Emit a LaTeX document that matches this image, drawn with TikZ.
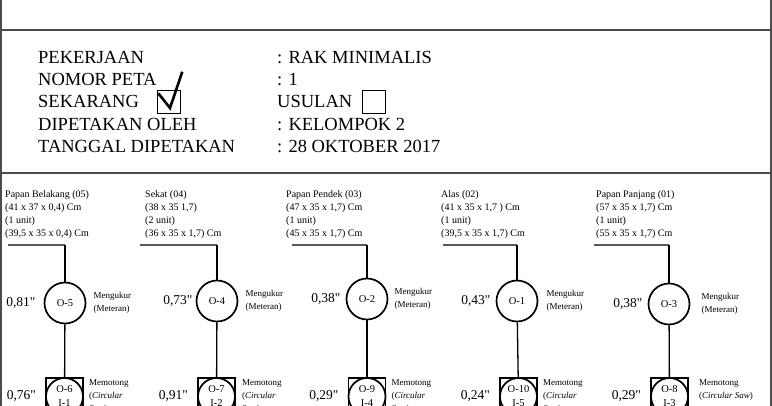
\documentclass[tikz,border=0pt]{standalone}
\usepackage{fontspec}
\setmainfont{Liberation Serif}
\usetikzlibrary{positioning}
\tikzset{
    frameline/.style={line width=2pt, black!70},
    headtext/.style={anchor=base west, inner sep=0pt, font=\fontsize{18.5}{22}\selectfont},
    tickbox/.style={draw, line width=1pt, minimum size=23pt, inner sep=0pt},
    tickmark/.style={line width=2.6pt},
    partlabel/.style={anchor=north west, inner sep=0pt, align=left, font=\fontsize{10}{13}\selectfont},
    barline/.style={line width=2.6pt, black!65},
    stemline/.style={line width=1.3pt},
    opcircle/.style={draw, circle, line width=1.7pt, minimum size=41pt, inner sep=0pt, font=\fontsize{10.5}{12}\selectfont},
    opbox/.style={draw, line width=1.7pt, minimum size=37pt, inner sep=0pt},
    opinner/.style={draw, circle, line width=1.7pt, minimum size=37pt, inner sep=0pt, align=center, font=\fontsize{10.5}{14}\selectfont},
    timetext/.style={inner sep=0pt, font=\fontsize{13.5}{16}\selectfont},
    notetext/.style={inner sep=0pt, align=left, font=\fontsize{9}{13}\selectfont},
}
\newcommand{\dq}{\textquotedbl}

\begin{document}
\begin{tikzpicture}[x=1pt,y=-1pt]
\useasboundingbox (0,0) rectangle (772,406);
\clip (0,0) rectangle (772,406);
\fill[white] (0,0) rectangle (772,406);

% frame
\draw[frameline] (1,0) -- (1,406);
\draw[frameline] (771,0) -- (771,406);
\draw[frameline] (0,30) -- (772,30);
\draw[frameline] (0,173) -- (772,173);

% header
\node[headtext] (pekerjaan) at (38,63.3) {PEKERJAAN};
\node[headtext] (nomor) at (38,85.5) {NOMOR PETA};
\node[headtext] (sekarang) at (38,107.9) {SEKARANG};
\node[headtext] (oleh) at (38,130.3) {DIPETAKAN OLEH};
\node[headtext] (tanggal) at (38,152.7) {TANGGAL DIPETAKAN};
\node[headtext] (pekerjaanval) at (277,63.3) {: RAK MINIMALIS};
\node[headtext] (nomorval) at (277,85.5) {: 1};
\node[headtext] (usulan) at (277,107.9) {USULAN};
\node[headtext] (olehval) at (277,130.3) {: KELOMPOK 2};
\node[headtext] (tanggalval) at (277,152.7) {: 28 OKTOBER 2017};
\node[tickbox] (boxnow) at (169,101.7) {};
\node[tickbox] (boxnew) at (374,101.7) {};
\draw[tickmark] (158.3,93.3) -- (170,108) -- (182.3,71.7);

% Papan Belakang
\node[partlabel] (part5) at (5,190) {Papan Belakang (05)\\(41 x 37 x 0,4) Cm\\(1 unit)\\(39,5 x 35 x 0,4) Cm};
\coordinate (bar5) at (8,245);
\node[opcircle] (o5) at (65,303) {O-5};
\node[opbox] (b6) at (64.5,396.5) {};
\node[opinner] (o6) at (b6) {O-6\\I-1};
\draw[barline] (bar5) -- (bar5 -| o5);
\draw[stemline] (bar5 -| o5) -- (o5);
\draw[stemline] (o5) -- (b6);
\node[timetext, left=8pt of o5] (t5) {0,81\dq};
\node[timetext, left=9pt of b6] (t6) {0,76\dq};
\node[notetext, right=7pt of o5] (n5) {Mengukur\\(Meteran)};
\node[notetext, anchor=north west] (n6) at ([xshift=5pt,yshift=-2pt]b6.north east) {Memotong\\(\textit{Circular}\\\textit{Saw})};

% Sekat
\node[partlabel] (part4) at (145,190) {Sekat (04)\\(38 x 35 1,7)\\(2 unit)\\(36 x 35 x 1,7) Cm};
\coordinate (bar4) at (140,245);
\node[opcircle] (o4) at (217,301) {O-4};
\node[opbox] (b7) at (216.5,396.5) {};
\node[opinner] (o7) at (b7) {O-7\\I-2};
\draw[barline] (bar4) -- (bar4 -| o4);
\draw[stemline] (bar4 -| o4) -- (o4);
\draw[stemline] (o4) -- (b7);
\node[timetext, left=3pt of o4] (t4) {0,73\dq};
\node[timetext, left=9pt of b7] (t7) {0,91\dq};
\node[notetext, right=7pt of o4] (n4) {Mengukur\\(Meteran)};
\node[notetext, anchor=north west] (n7) at ([xshift=6pt,yshift=-2pt]b7.north east) {Memotong\\(\textit{Circular}\\\textit{Saw})};

% Papan Pendek
\node[partlabel] (part3) at (286,190) {Papan Pendek (03)\\(47 x 35 x 1,7) Cm\\(1 unit)\\(45 x 35 x 1,7) Cm};
\coordinate (bar3) at (292,245);
\node[opcircle] (o2) at (367,299) {O-2};
\node[opbox] (b9) at (367,396.5) {};
\node[opinner] (o9) at (b9) {O-9\\I-4};
\draw[barline] (bar3) -- (bar3 -| o2);
\draw[stemline] (bar3 -| o2) -- (o2);
\draw[stemline] (o2) -- (b9);
\node[timetext, left=5pt of o2] (t2) {0,38\dq};
\node[timetext, left=9pt of b9] (t9) {0,29\dq};
\node[notetext, right=6pt of o2] (n2) {Mengukur\\(Meteran)};
\node[notetext, anchor=north west] (n9) at ([xshift=5pt,yshift=-2pt]b9.north east) {Memotong\\(\textit{Circular}\\\textit{Saw})};

% Alas
\node[partlabel] (part2) at (441,190) {Alas (02)\\(41 x 35 x 1,7 ) Cm\\(1 unit)\\(39,5 x 35 x 1,7) Cm};
\coordinate (bar2) at (443,245);
\node[opcircle] (o1) at (517,301) {O-1};
\node[opbox] (b10) at (518.5,396.5) {};
\node[opinner] (o10) at (b10) {O-10\\I-5};
\draw[barline] (bar2) -- (bar2 -| o1);
\draw[stemline] (bar2 -| o1) -- (o1);
\draw[stemline] (o1) -- (b10);
\node[timetext, left=5pt of o1] (t1) {0,43\dq};
\node[timetext, left=9pt of b10] (t10) {0,24\dq};
\node[notetext, right=8pt of o1] (n1) {Mengukur\\(Meteran)};
\node[notetext, anchor=north west] (n10) at ([xshift=5pt,yshift=-2pt]b10.north east) {Memotong\\(\textit{Circular}\\\textit{Saw})};

% Papan Panjang
\node[partlabel] (part1) at (596,190) {Papan Panjang (01)\\(57 x 35 x 1,7) Cm\\(1 unit)\\(55 x 35 x 1,7) Cm};
\coordinate (bar1) at (594,245);
\node[opcircle] (o3) at (669,304) {O-3};
\node[opbox] (b8) at (669.5,396.5) {};
\node[opinner] (o8) at (b8) {O-8\\I-3};
\draw[barline] (bar1) -- (bar1 -| o3);
\draw[stemline] (bar1 -| o3) -- (o3);
\draw[stemline] (o3) -- (b8);
\node[timetext, left=5pt of o3] (t3) {0,38\dq};
\node[timetext, left=9pt of b8] (t8) {0,29\dq};
\node[notetext, right=11pt of o3] (n3) {Mengukur\\(Meteran)};
\node[notetext, anchor=north west] (n8) at ([xshift=10pt,yshift=-2pt]b8.north east) {Memotong\\(\textit{Circular Saw})};
\end{tikzpicture}
\end{document}
